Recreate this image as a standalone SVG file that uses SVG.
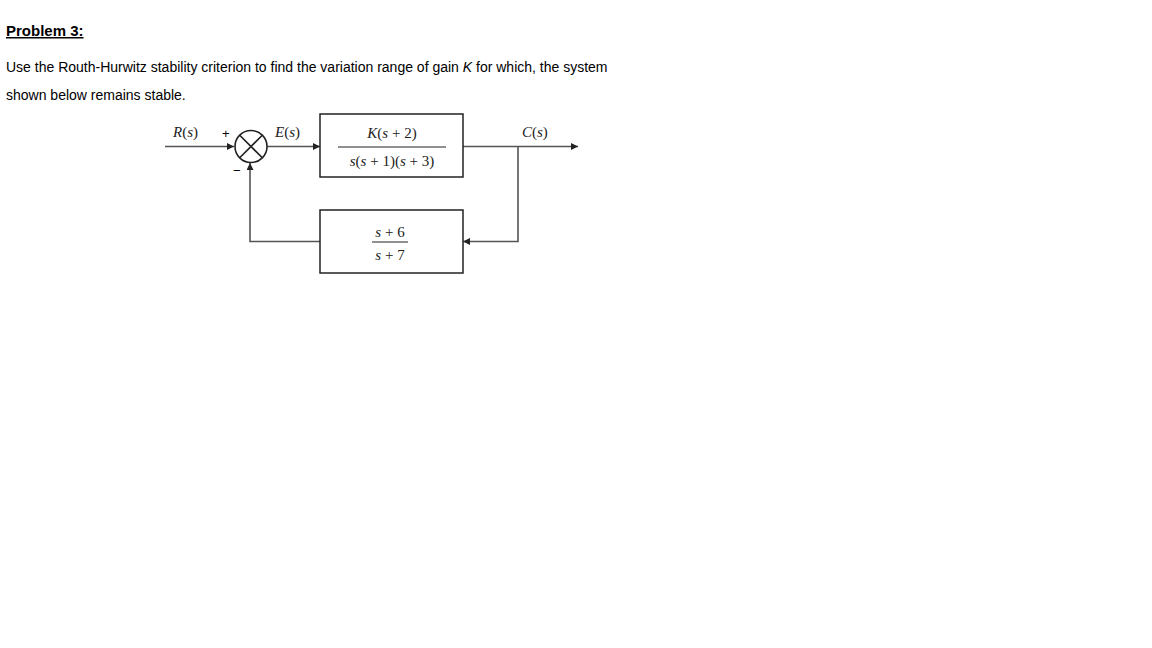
<svg xmlns="http://www.w3.org/2000/svg" width="1152" height="648" viewBox="0 0 1152 648">
<style>
.t{font-family:"Liberation Sans",Arial,sans-serif;fill:#000}
.m{font-family:"Liberation Serif","Times New Roman",serif;font-size:15px;fill:#222}
.ln{stroke:#555;stroke-width:1.6;fill:none}
.bx{stroke:#222;stroke-width:1.5;fill:#fff}
</style>
<defs><marker id="a" viewBox="0 0 10 10" refX="10" refY="5" markerWidth="10" markerHeight="7" markerUnits="userSpaceOnUse" orient="auto"><path d="M0,0L10,5L0,10z" fill="#222"/></marker></defs>
<rect width="1152" height="648" fill="#fff"/>
<text class="t" x="6" y="36" font-size="15" font-weight="bold" text-decoration="underline">Problem 3:</text>
<text class="t" x="6" y="72" font-size="14">Use the Routh-Hurwitz stability criterion to find the variation range of gain <tspan font-style="italic">K</tspan> for which, the system</text>
<text class="t" x="6" y="100" font-size="14">shown below remains stable.</text>
<g id="connectors">
<path class="ln" d="M165,146.5H234" marker-end="url(#a)"/>
<path class="ln" d="M267,146.5H320" marker-end="url(#a)"/>
<path class="ln" d="M463,146.5H578" marker-end="url(#a)"/>
<path class="ln" d="M518,146.5V241.5H463" marker-end="url(#a)"/>
<path class="ln" d="M320,241.5H250V163" marker-end="url(#a)"/>
</g>
<g id="sum">
<circle cx="251" cy="146.5" r="16" fill="#fff" stroke="#222" stroke-width="1.6"/>
<path d="M239.7,135.2L262.3,157.8M262.3,135.2L239.7,157.8" stroke="#222" stroke-width="1.6"/>
<text class="t" x="222" y="138" font-size="13">+</text>
<text class="t" x="233" y="175" font-size="13">−</text>
</g>
<g id="G">
<rect class="bx" x="320" y="114" width="143" height="63"/>
<text class="m" x="392" y="138" text-anchor="middle"><tspan font-style="italic">K</tspan>(<tspan font-style="italic">s</tspan> + 2)</text>
<path d="M338,147H446" stroke="#222" stroke-width="1.2"/>
<text class="m" x="392" y="166" text-anchor="middle"><tspan font-style="italic">s</tspan>(<tspan font-style="italic">s</tspan> + 1)(<tspan font-style="italic">s</tspan> + 3)</text>
</g>
<g id="H">
<rect class="bx" x="320" y="210" width="143" height="63"/>
<text class="m" x="390" y="237" text-anchor="middle"><tspan font-style="italic">s</tspan> + 6</text>
<path d="M372,242H408" stroke="#222" stroke-width="1.2"/>
<text class="m" x="390" y="260" text-anchor="middle"><tspan font-style="italic">s</tspan> + 7</text>
</g>
<g id="labels">
<text class="m" x="173" y="137"><tspan font-style="italic">R</tspan>(<tspan font-style="italic">s</tspan>)</text>
<text class="m" x="275" y="137"><tspan font-style="italic">E</tspan>(<tspan font-style="italic">s</tspan>)</text>
<text class="m" x="522" y="137"><tspan font-style="italic">C</tspan>(<tspan font-style="italic">s</tspan>)</text>
</g>
</svg>
